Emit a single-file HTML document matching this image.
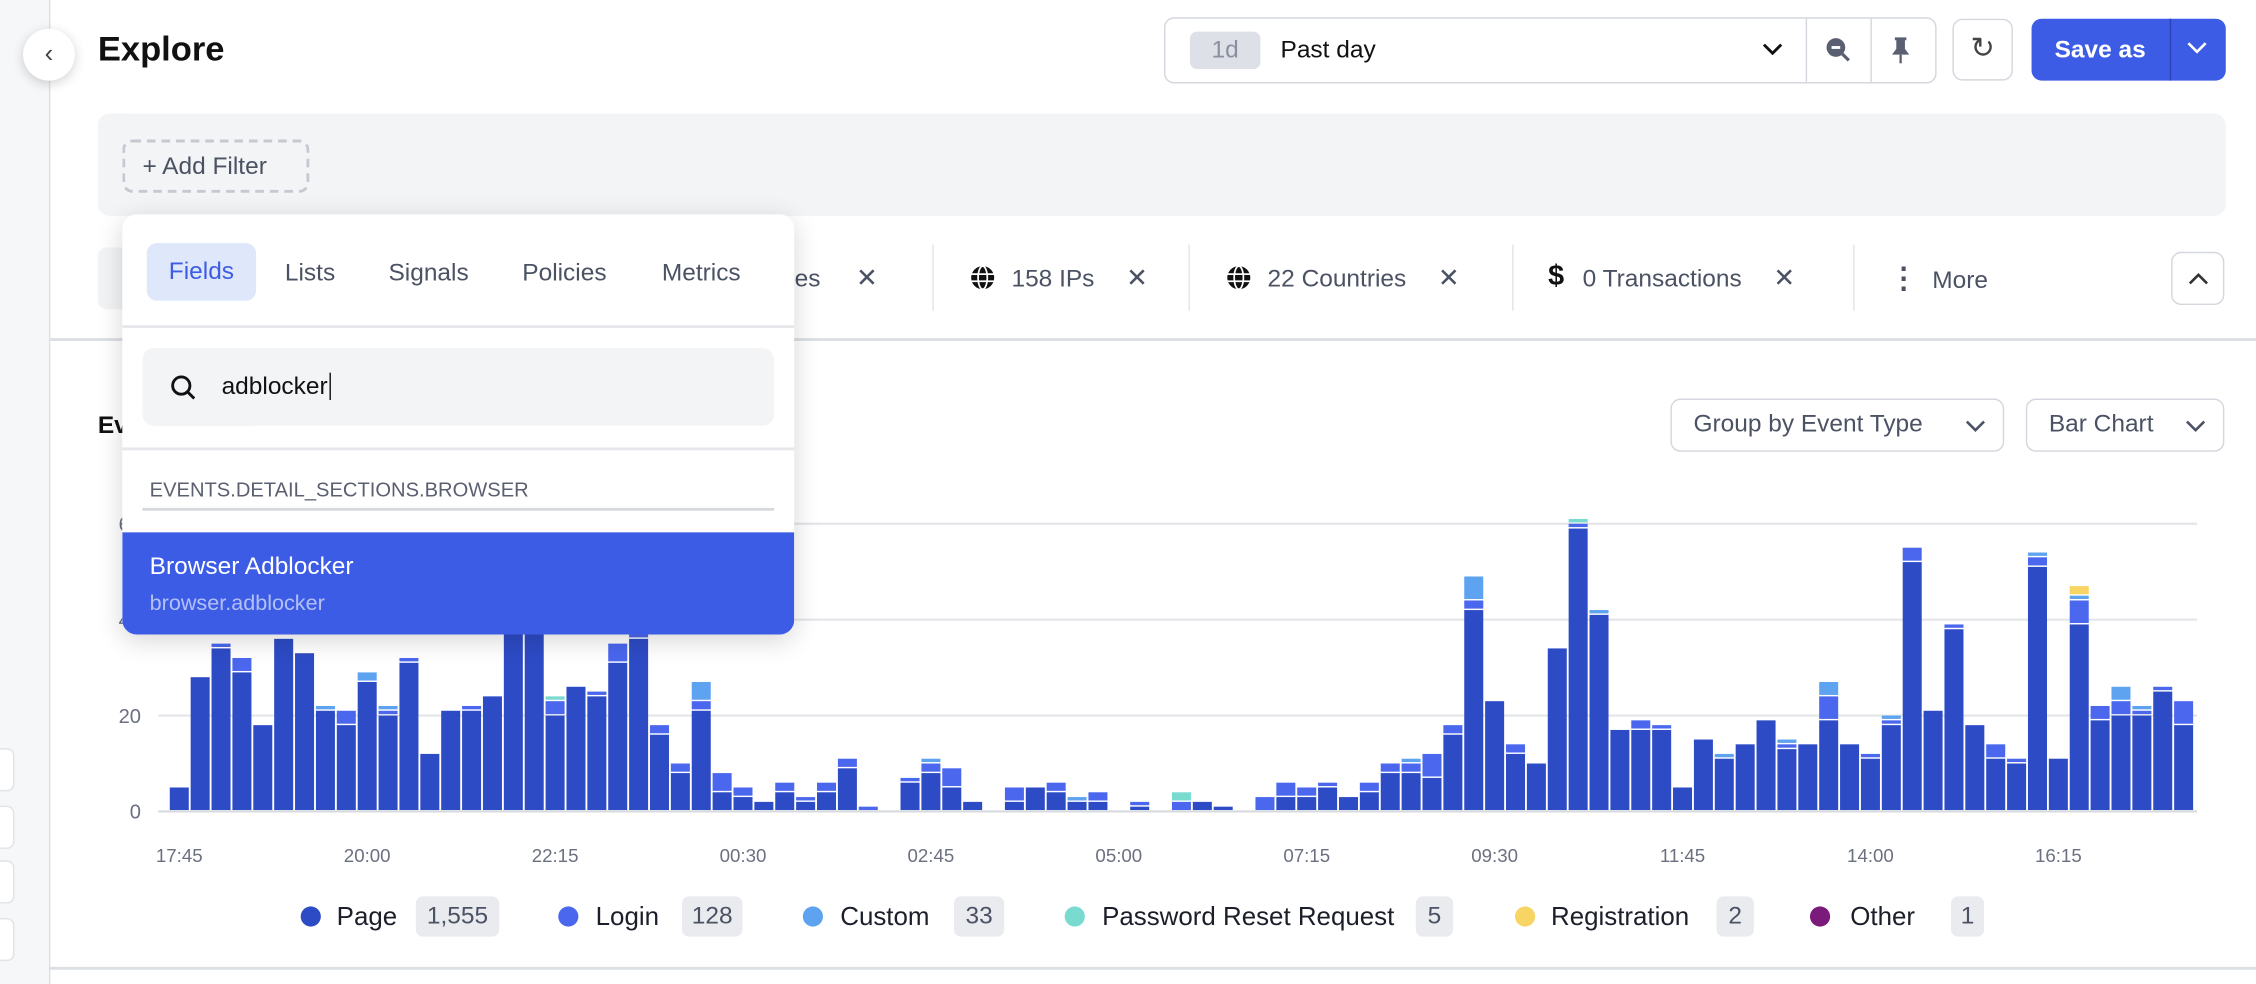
<!DOCTYPE html>
<html><head><meta charset="utf-8">
<style>
html,body{margin:0;padding:0;width:2256px;height:984px;overflow:hidden;background:#fff;font-family:"Liberation Sans",sans-serif;}
#wrap{position:absolute;left:0;top:0;width:1568px;height:684px;transform:scale(1.438776);transform-origin:0 0;}
.a{position:absolute;}
.t{position:absolute;white-space:nowrap;}
.btn{position:absolute;border:1.5px solid #d4d7dd;border-radius:7px;background:#fff;box-sizing:border-box;}
.gray{color:#4b5263;}
.badge{position:absolute;top:623px;height:28px;line-height:28px;background:#e9ebef;border-radius:5px;font-size:17px;color:#4b5263;text-align:center;}
.lab{position:absolute;top:627px;font-size:18px;color:#1b1f2a;white-space:nowrap;}
.dot{position:absolute;top:630px;width:14px;height:14px;border-radius:50%;}
</style></head><body>
<div id="wrap">
<!-- left sidebar -->
<div class="a" style="left:0;top:0;width:34px;height:684px;background:#f6f7f9;border-right:1px solid #dde0e5;"></div>
<div class="a" style="left:-10px;top:520px;width:18px;height:28px;border:1px solid #e0e3e8;border-radius:5px;background:#fff"></div>
<div class="a" style="left:-10px;top:560px;width:18px;height:28px;border:1px solid #e0e3e8;border-radius:5px;background:#fff"></div>
<div class="a" style="left:-10px;top:598px;width:18px;height:28px;border:1px solid #e0e3e8;border-radius:5px;background:#fff"></div>
<div class="a" style="left:-10px;top:638px;width:18px;height:28px;border:1px solid #e0e3e8;border-radius:5px;background:#fff"></div>
<div class="a" style="left:16px;top:20px;width:36px;height:36px;border-radius:50%;background:#fff;box-shadow:0 2px 8px rgba(0,0,0,.18);text-align:center;line-height:34px;font-size:18px;color:#444">&#8249;</div>
<div class="t" style="left:68px;top:21px;font-size:24px;font-weight:bold;color:#111">Explore</div>

<!-- time selector -->
<div class="btn" style="left:809px;top:12px;width:537px;height:46px;"></div>
<div class="a" style="left:827px;top:22px;width:49px;height:26px;background:#dde0e6;border-radius:5px;color:#8a90a0;font-size:17px;text-align:center;line-height:26px">1d</div>
<div class="t" style="left:890px;top:25px;font-size:17px;color:#111">Past day</div>
<svg class="a" style="left:1224px;top:28px" width="16" height="12"><path d="M2 3 L8 9 L14 3" stroke="#111" stroke-width="2" fill="none"/></svg>
<div class="a" style="left:1255px;top:13px;width:1px;height:44px;background:#d4d7dd"></div>
<svg class="a" style="left:1268px;top:25px" width="20" height="20"><circle cx="8" cy="8" r="6.5" fill="#5a6072"/><rect x="5" y="7" width="6" height="2" fill="#fff"/><path d="M12.5 12.5 L17 17" stroke="#5a6072" stroke-width="2.2"/></svg>
<div class="a" style="left:1300px;top:13px;width:1px;height:44px;background:#d4d7dd"></div>
<svg class="a" style="left:1313px;top:25px" width="16" height="22"><path d="M4 1 H12 V3 H11 V9 L14 13 H2 L5 9 V3 H4Z" fill="#5a6072"/><rect x="7.2" y="13" width="1.6" height="6" fill="#5a6072"/></svg>
<div class="btn" style="left:1357px;top:13px;width:42px;height:43px;text-align:center;line-height:40px;font-size:20px;color:#444">&#8635;</div>
<div class="a" style="left:1412px;top:13px;width:135px;height:43px;background:#3d5ce5;border-radius:7px;"></div>
<div class="t" style="left:1428px;top:25px;font-size:17px;color:#fff;font-weight:bold">Save as</div>
<div class="a" style="left:1508px;top:13px;width:1px;height:43px;background:#2c44b8"></div>
<svg class="a" style="left:1519px;top:27px" width="16" height="12"><path d="M2 3 L8 9 L14 3" stroke="#fff" stroke-width="1.8" fill="none"/></svg>

<!-- filter bar -->
<div class="a" style="left:68px;top:79px;width:1479px;height:71px;background:#f3f4f6;border-radius:8px"></div>
<div class="a" style="left:85px;top:97px;width:130px;height:37px;border:2px dashed #c5c9d1;border-radius:7px;box-sizing:border-box;color:#4b5263;font-size:17px;line-height:33px;padding-left:12px">+ Add Filter</div>

<!-- summary chips row -->
<div class="a" style="left:68px;top:172px;width:40px;height:43px;background:#f3f4f6;border-radius:6px"></div>
<div class="t gray" style="left:540px;top:183px;font-size:17px">ices <span style="margin-left:20px;font-size:18px">&#10005;</span></div>
<div class="a" style="left:648px;top:170px;width:1px;height:46px;background:#e2e4e8"></div>
<svg class="a" style="left:674px;top:184px" width="18" height="18"><circle cx="9" cy="9" r="8" fill="#111"/><ellipse cx="9" cy="9" rx="3.2" ry="8" fill="none" stroke="#fff" stroke-width="1.2"/><path d="M1 6.5H17M1 11.5H17" stroke="#fff" stroke-width="1.2"/></svg>
<div class="t gray" style="left:703px;top:183px;font-size:17px">158 IPs<span style="margin-left:22px;font-size:18px">&#10005;</span></div>
<div class="a" style="left:826px;top:170px;width:1px;height:46px;background:#e2e4e8"></div>
<svg class="a" style="left:852px;top:184px" width="18" height="18"><circle cx="9" cy="9" r="8" fill="#111"/><ellipse cx="9" cy="9" rx="3.2" ry="8" fill="none" stroke="#fff" stroke-width="1.2"/><path d="M1 6.5H17M1 11.5H17" stroke="#fff" stroke-width="1.2"/></svg>
<div class="t gray" style="left:881px;top:183px;font-size:17px">22 Countries<span style="margin-left:22px;font-size:18px">&#10005;</span></div>
<div class="a" style="left:1051px;top:170px;width:1px;height:46px;background:#e2e4e8"></div>
<div class="t" style="left:1076px;top:181px;font-size:20px;font-weight:bold;color:#111">$</div>
<div class="t gray" style="left:1100px;top:183px;font-size:17px">0 Transactions<span style="margin-left:22px;font-size:18px">&#10005;</span></div>
<div class="a" style="left:1288px;top:170px;width:1px;height:46px;background:#e2e4e8"></div>
<div class="t gray" style="left:1313px;top:181px;font-size:17px"><b style="font-size:20px;margin-right:10px">&#8942;</b>More</div>
<div class="btn" style="left:1509px;top:175px;width:37px;height:37px;"><svg style="position:absolute;left:11px;top:13px" width="14" height="10"><path d="M1 8 L7 2 L13 8" stroke="#333" stroke-width="1.8" fill="none"/></svg></div>
<div class="a" style="left:34px;top:235px;width:1534px;height:1.5px;background:#dcdfe4"></div>

<div class="t" style="left:68px;top:286px;font-size:17px;font-weight:bold;color:#111">Events</div>
<div class="btn gray" style="left:1161px;top:277px;width:232px;height:37px;font-size:17px;line-height:34px;padding-left:15px">Group by Event Type<svg style="position:absolute;right:12px;top:13px" width="14" height="10"><path d="M1 2 L7 8 L13 2" stroke="#4b5263" stroke-width="1.8" fill="none"/></svg></div>
<div class="btn gray" style="left:1408px;top:277px;width:138px;height:37px;font-size:17px;line-height:34px;padding-left:15px">Bar Chart<svg style="position:absolute;right:12px;top:13px" width="14" height="10"><path d="M1 2 L7 8 L13 2" stroke="#4b5263" stroke-width="1.8" fill="none"/></svg></div>

<svg id="chart" class="a" style="left:0;top:0" width="1568" height="684"></svg>

<!-- legend -->
<div>
<div class="dot" style="left:209px;background:#2d4bc5"></div><div class="lab" style="left:234px">Page</div><div class="badge" style="left:289px;width:58px">1,555</div></div>
<div>
<div class="dot" style="left:388px;background:#4a67ee"></div><div class="lab" style="left:414px">Login</div><div class="badge" style="left:474px;width:42px">128</div></div>
<div>
<div class="dot" style="left:558px;background:#5da3f0"></div><div class="lab" style="left:584px">Custom</div><div class="badge" style="left:663px;width:35px">33</div></div>
<div>
<div class="dot" style="left:740px;background:#79dbd0"></div><div class="lab" style="left:766px">Password Reset Request</div><div class="badge" style="left:984px;width:26px">5</div></div>
<div>
<div class="dot" style="left:1053px;background:#f7d463"></div><div class="lab" style="left:1078px">Registration</div><div class="badge" style="left:1193px;width:26px">2</div></div>
<div>
<div class="dot" style="left:1258px;background:#7a1a7a"></div><div class="lab" style="left:1286px">Other</div><div class="badge" style="left:1356px;width:23px">1</div></div>
<div class="a" style="left:34px;top:672px;width:1534px;height:1.5px;background:#dcdfe4"></div>

<!-- popup -->
<div class="a" style="left:85px;top:149px;width:467px;height:292px;background:#fff;border-radius:10px;box-shadow:0 4px 18px rgba(0,0,0,.16);overflow:hidden">
  <div class="a" style="left:17px;top:20px;width:76px;height:40px;background:#dfe8fb;border-radius:7px;color:#3d5ce5;font-size:17px;text-align:center;line-height:40px">Fields</div>
  <div class="t gray" style="left:113px;top:31px;font-size:17px">Lists</div>
  <div class="t gray" style="left:185px;top:31px;font-size:17px">Signals</div>
  <div class="t gray" style="left:278px;top:31px;font-size:17px">Policies</div>
  <div class="t gray" style="left:375px;top:31px;font-size:17px">Metrics</div>
  <div class="a" style="left:0;top:77px;width:467px;height:1.5px;background:#e5e7eb"></div>
  <div class="a" style="left:14px;top:93px;width:439px;height:54px;background:#f3f4f6;border-radius:8px">
    <svg style="position:absolute;left:19px;top:18px" width="20" height="20"><circle cx="8" cy="8" r="6" fill="none" stroke="#111" stroke-width="2"/><path d="M12.5 12.5 L17 17" stroke="#111" stroke-width="2"/></svg>
    <div class="t" style="left:55px;top:17px;font-size:17px;color:#111">adblocker<span style="border-left:1.5px solid #111;margin-left:1px"></span></div>
  </div>
  <div class="a" style="left:0;top:162px;width:467px;height:1.5px;background:#e5e7eb"></div>
  <div class="t" style="left:19px;top:183px;font-size:14px;color:#5a6070">EVENTS.DETAIL_SECTIONS.BROWSER</div>
  <div class="a" style="left:14px;top:204px;width:439px;height:1.5px;background:#d6d9de"></div>
  <div class="a" style="left:0;top:221px;width:467px;height:71px;background:#3d5ce5">
    <div class="t" style="left:19px;top:14px;font-size:17px;color:#fff">Browser Adblocker</div>
    <div class="t" style="left:19px;top:41px;font-size:15px;color:#b3c0f5">browser.adblocker</div>
  </div>
</div>
</div>

<script>
const timeLabels = ["17:45","20:00","22:15","00:30","02:45","05:00","07:15","09:30","11:45","14:00","16:15"];
const yTicks = [0,20,40,60];
const pageVals = [5,28,34,29,18,36,33,21,18,27,20,31,12,21,21,24,37,37,20,26,24,31,36,16,8,21,4,3,2,4,2,4,9,0,0,6,8,5,2,0,2,5,4,2,2,0,1,0,0,2,1,0,0,3,3,5,3,4,8,8,7,16,42,23,12,10,34,59,41,17,17,17,5,15,11,14,19,13,14,19,14,11,18,52,21,38,18,11,10,51,11,39,19,20,20,25,18];
const loginVals = [0,0,1,3,0,0,0,0,3,0,1,1,0,0,1,0,0,0,3,0,1,4,1,2,2,2,4,2,0,2,1,2,2,1,0,1,2,4,0,0,3,0,2,0,2,0,1,0,2,0,0,0,3,3,2,1,0,2,2,2,5,2,2,0,2,0,0,1,0,0,2,1,0,0,0,0,0,1,0,5,0,1,1,3,0,1,0,3,1,2,0,5,3,3,1,1,5];
const customVals = [0,0,0,0,0,0,0,1,0,2,1,0,0,0,0,0,0,0,0,0,0,0,0,0,0,4,0,0,0,0,0,0,0,0,0,0,1,0,0,0,0,0,0,1,0,0,0,0,0,0,0,0,0,0,0,0,0,0,0,1,0,0,5,0,0,0,0,0,1,0,0,0,0,0,1,0,0,1,0,3,0,0,1,0,0,0,0,0,0,1,0,1,0,3,1,0,0];
const resetVals = [0,0,0,0,0,0,0,0,0,0,0,0,0,0,0,0,0,0,1,0,0,0,0,0,0,0,0,0,0,0,0,0,0,0,0,0,0,0,0,0,0,0,0,0,0,0,0,0,2,0,0,0,0,0,0,0,0,0,0,0,0,0,0,0,0,0,0,1,0,0,0,0,0,0,0,0,0,0,0,0,0,0,0,0,0,0,0,0,0,0,0,0,0,0,0,0,0];
const registrationVals = [0,0,0,0,0,0,0,0,0,0,0,0,0,0,0,0,0,0,0,0,0,0,0,0,0,0,0,0,0,0,0,0,0,0,0,0,0,0,0,0,0,0,0,0,0,0,0,0,0,0,0,0,0,0,0,0,0,0,0,0,0,0,0,0,0,0,0,0,0,0,0,0,0,0,0,0,0,0,0,0,0,0,0,0,0,0,0,0,0,0,0,2,0,0,0,0,0];
const otherVals = [0,0,0,0,0,0,0,0,0,0,0,0,0,0,0,0,0,0,0,0,0,0,0,0,0,0,0,0,0,0,0,0,0,0,0,0,0,0,0,0,0,0,0,0,0,0,0,0,0,0,0,0,0,0,0,0,0,0,0,0,0,0,0,0,0,0,0,0,0,0,0,0,0,0,0,0,0,0,0,0,0,0,0,0,0,0,0,0,0,0,0,0,0,0,0,0,0];
const seriesList = [["page",pageVals,"#2d4bc5"],["login",loginVals,"#4a67ee"],["custom",customVals,"#5da3f0"],["password-reset",resetVals,"#79dbd0"],["registration",registrationVals,"#f7d463"],["other",otherVals,"#7a1a7a"]];

const NS="http://www.w3.org/2000/svg";
const svg=document.getElementById("chart");
const X0=118, X1=1525.6, Y0=564, PXU=3.333, LABEL_EVERY=9;
const n=pageVals.length, pitch=(X1-X0)/n, bw=pitch-1.3;
function xPos(i){return X0+i*pitch;}
function yPos(v){return Y0-v*PXU;}
function mk(tag,attrs){const e=document.createElementNS(NS,tag);for(const k in attrs)e.setAttribute(k,attrs[k]);svg.appendChild(e);return e;}

yTicks.forEach(v=>{
  const g=mk("line",{x1:110,x2:1527,y1:yPos(v),y2:yPos(v),stroke:v===0?"#d6d9de":"#e3e5e9","stroke-width":1.5});
  
  
  const t=mk("text",{x:98,y:yPos(v)+5,"text-anchor":"end","font-size":14,fill:"#6b7080","font-family":"Liberation Sans, sans-serif"});
  t.textContent=v;
  
  
});
timeLabels.forEach((lab,k)=>{
  const t=mk("text",{x:xPos(k*LABEL_EVERY)+bw/2,y:599,"text-anchor":"middle","font-size":13,fill:"#6b7080","font-family":"Liberation Sans, sans-serif"});
  t.textContent=lab;
  
  
});
for(let i=0;i<n;i++){
  let acc=0;
  seriesList.forEach(([name,vals,col])=>{
    const v=vals[i]; if(!v) return;
    const yt=yPos(acc+v), yb=yPos(acc);
    const r=mk("rect",{x:xPos(i),y:yt,width:bw,height:Math.max(0.5,yb-yt-1),fill:col});
    
    
    acc+=v;
  });
}
</script>
</body></html>
